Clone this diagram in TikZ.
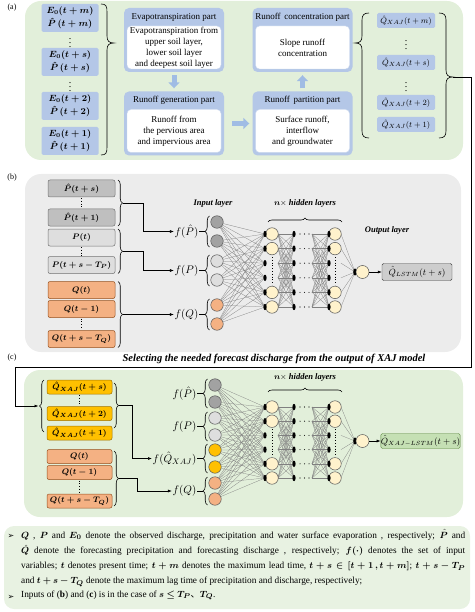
\documentclass[tikz,border=0pt]{standalone}
\usepackage{amsmath}
\usepackage{bm}
\usepackage{fontspec}
\setmainfont{Liberation Serif}
\newfontfamily\dejavu{DejaVu Sans}
\newfontfamily\cjkfont{Noto Sans CJK SC}
\usetikzlibrary{arrows.meta,decorations.pathreplacing}

\definecolor{panelgreen}{RGB}{226,239,218}
\definecolor{notegreen}{RGB}{232,242,226}
\definecolor{panelgray}{RGB}{236,236,236}
\definecolor{boxblue}{RGB}{180,199,231}
\definecolor{arrowblue}{RGB}{160,188,228}
\definecolor{pdark}{RGB}{191,191,191}
\definecolor{plight}{RGB}{222,222,222}
\definecolor{qorange}{RGB}{244,177,131}
\definecolor{qline}{RGB}{150,80,30}
\definecolor{qgold}{RGB}{255,192,0}
\definecolor{goldline}{RGB}{160,115,0}
\definecolor{cream}{RGB}{255,242,204}
\definecolor{lstmgray}{RGB}{205,205,205}
\definecolor{hybgreen}{RGB}{197,224,180}
\definecolor{hybline}{RGB}{84,130,53}

\tikzset{
  plabel/.style={font=\fontsize{8}{9}\selectfont, inner sep=0pt},
  inblue/.style={fill=boxblue, rounded corners=1.5pt, minimum width=57pt, minimum height=28pt,
    inner sep=0pt, align=center, font=\fontsize{8.8}{12.5}\selectfont\boldmath},
  xajbox/.style={fill=boxblue, rounded corners=1.5pt, minimum width=58pt, minimum height=15pt,
    inner sep=0pt, font=\fontsize{8.5}{10}\selectfont},
  partouter/.style={fill=boxblue, rounded corners=5pt, minimum width=100pt, minimum height=64pt},
  parthead/.style={font=\fontsize{9}{11}\selectfont, inner sep=0pt},
  partinner/.style={fill=white, draw=boxblue!70, rounded corners=4pt, minimum width=94pt,
    minimum height=43pt, align=center, font=\fontsize{9}{11}\selectfont, inner sep=0pt},
  bigarrow/.style={line width=5pt, draw=arrowblue, -{Triangle[width=11pt,length=6pt]},
    shorten <=3pt, shorten >=3pt},
  inbox/.style={draw=black!55, rounded corners=2pt, line width=0.5pt, minimum width=67pt,
    minimum height=17pt, inner sep=0pt, font=\fontsize{8.3}{9}\selectfont\boldmath},
  neuron/.style={circle, draw=black!65, line width=0.5pt, minimum size=12.5pt, inner sep=0pt},
  hidden/.style={neuron, fill=cream},
  wire/.style={draw=black!50, line width=0.25pt},
  conn/.style={line width=0.6pt, -{Latex[length=4pt,width=3pt]}},
  fnode/.style={font=\fontsize{11}{13}\selectfont, inner sep=0.5pt, anchor=east},
  mybrace/.style={decorate, decoration={brace, amplitude=#1}, line width=0.6pt},
  mybrace/.default=4.5pt,
  layername/.style={font=\fontsize{8.5}{10}\selectfont\bfseries\itshape, inner sep=0pt},
  dotsv/.style={dotted, line width=0.8pt},
  notetext/.style={anchor=north west, text width=444pt, align=justify, inner sep=0pt,
    font=\fontsize{9.3}{15.2}\selectfont},
}

\begin{document}
\begin{tikzpicture}[x=1pt,y=-1pt]
\useasboundingbox (0,0) rectangle (474,612);

%% (a) XAJ model
\fill[panelgreen, rounded corners=16pt] (25,1) rectangle (463,160);
\node[plabel] (la) at (12,8) {(a)};

\node[inblue] (ea1) at (70,18) {$E_0(t+m)$\\$\hat P\,(t+m)$};
\node (va1) at (70,40) {$\vdots$};
\node[inblue] (ea2) at (70,62) {$E_0(t+s)$\\$\hat P\,(t+s)$};
\node (va2) at (70,84) {$\vdots$};
\node[inblue] (ea3) at (70,106) {$E_0(t+2)$\\$\hat P\,(t+2)$};
\node[inblue] (ea4) at (70,141) {$E_0(t+1)$\\$\hat P\,(t+1)$};

\draw[line width=0.6pt] (101,4) .. controls (106,4) and (107,6) .. (107,12) -- (107,36)
  .. controls (107,41) and (109,43) .. (114,43) .. controls (109,43) and (107,45) .. (107,50)
  -- (107,147) .. controls (107,153) and (106,155) .. (101,155);

\node[partouter] (evap) at (174,40) {};
\node[parthead] (evaph) at (174,17) {Evapotranspiration part};
\node[partinner] (evapi) at (174,47.5) {Evapotranspiration from\\upper soil layer,\\lower soil layer\\and deepest soil layer};

\node[partouter] (gen) at (174,123.5) {};
\node[parthead] (genh) at (174,100.5) {Runoff generation part};
\node[partinner] (geni) at (174,131) {Runoff from\\the pervious area\\and impervious area};

\node[partouter] (part) at (302.5,123.5) {};
\node[parthead] (parth) at (302.5,100.5) {Runoff\, partition part};
\node[partinner] (parti) at (302.5,131) {Surface runoff,\\interflow\\and groundwater};

\node[partouter] (conc) at (302.5,40) {};
\node[parthead] (conch) at (302.5,17) {Runoff\, concentration part};
\node[partinner] (conci) at (302.5,47.5) {Slope runoff\\concentration};

\draw[bigarrow] (evap) -- (gen);
\draw[bigarrow, shorten <=8pt] (gen) -- (part);
\draw[bigarrow] (part) -- (conc);

\draw[line width=0.6pt] (369,13) .. controls (364,13) and (362,15) .. (362,20) -- (362,36)
  .. controls (362,41) and (360,43) .. (355,43) .. controls (360,43) and (362,45) .. (362,50)
  -- (362,131) .. controls (362,136) and (364,138) .. (369,138);

\node[xajbox] (xa1) at (406,20.5) {$\hat Q_{XAJ}(t+m)$};
\node (vx1) at (406,42) {$\vdots$};
\node[xajbox] (xa2) at (406,62.5) {$\hat Q_{XAJ}(t+s)$};
\node (vx2) at (406,84) {$\vdots$};
\node[xajbox] (xa3) at (406,102.5) {$\hat Q_{XAJ}(t+2)$};
\node[xajbox] (xa4) at (406,124.5) {$\hat Q_{XAJ}(t+1)$};

\draw[line width=0.6pt] (439,13) .. controls (444,13) and (446,15) .. (446,20) -- (446,70)
  .. controls (446,75) and (448,77) .. (453,77) .. controls (448,77) and (446,79) .. (446,84)
  -- (446,131) .. controls (446,136) and (444,138) .. (439,138);
\coordinate (tqa) at (453,77);

%% (b) LSTM
\fill[panelgray, rounded corners=16pt] (25,174) rectangle (461,352);
\node[plabel] (lb) at (12,178) {(b)};

\node[inbox, fill=pdark] (ph1) at (81.5,188.5) {$\hat P(t+s)$};
\draw[dotsv] (81.5,198) -- (81.5,208);
\node[inbox, fill=pdark] (ph2) at (81.5,217.5) {$\hat P(t+1)$};
\node[inbox, fill=plight] (pb1) at (81.5,237.5) {$P(t)$};
\draw[dotsv] (81.5,247) -- (81.5,256);
\node[inbox, fill=plight] (pb2) at (81.5,265) {$P(t+s-T_P)$};
\node[inbox, fill=qorange, draw=qline] (qb1) at (81.5,290) {$Q(t)$};
\node[inbox, fill=qorange, draw=qline] (qb2) at (81.5,309) {$Q(t-1)$};
\draw[dotsv] (81.5,318.5) -- (81.5,329);
\node[inbox, fill=qorange, draw=qline] (qb3) at (81.5,339) {$Q(t+s-T_Q)$};

\draw[mybrace] (118,180) -- (118,226);
\draw[mybrace] (118,229) -- (118,273.5);
\draw[mybrace] (118,281.5) -- (118,347.5);
\coordinate (tbph) at (122.5,203);
\coordinate (tbp) at (122.5,251.2);
\coordinate (tbq) at (122.5,314.5);

\node[fnode] (fbph) at (199,231.5) {$f(\hat P)$};
\node[fnode] (fbp) at (199,270.5) {$f(P)$};
\node[fnode] (fbq) at (199,314.5) {$f(Q)$};
\draw[conn] (tbph) -- (143,203) |- (fbph);
\draw[conn] (tbp) -- (143,251.2) |- (fbp);
\draw[conn] (tbq) -- (fbq);

\draw[mybrace] (209.5,247) -- (209.5,216);
\draw[mybrace] (209.5,286) -- (209.5,255);
\draw[mybrace] (209.5,330) -- (209.5,299);
\draw[line width=0.6pt] (fbph) -- (205,231.5);
\draw[line width=0.6pt] (fbp) -- (205,270.5);
\draw[line width=0.6pt] (fbq) -- (205,314.5);

\foreach \y [count=\k] in {234,248.6,263.2,277.8,292.4,307} {
  \coordinate (ba\k) at (265,\y);
  \coordinate (bb\k) at (278,\y);
  \coordinate (bc\k) at (294,\y);
  \coordinate (bd\k) at (312,\y);
  \coordinate (be\k) at (329,\y);
  \coordinate (bf\k) at (341,\y);
}
\coordinate (bom) at (355,272);

\foreach \y/\c [count=\i] in {222/pdark!85!black,241/pdark!85!black,261/plight,280/plight,305/qorange,324/qorange}
  \node[neuron, fill=\c] (bi\i) at (217,\y) {};

\foreach \i in {1,...,6} \foreach \k in {1,...,6} {
  \draw[wire] (bi\i) -- (ba\k);
  \draw[wire] (bb\i) -- (bc\k);
  \draw[wire] (bd\i) -- (be\k);
}
\foreach \k in {1,...,6} \draw[wire] (bf\k) -- (bom);

\foreach \k/\y in {1/234,2/248.6,5/292.4,6/307} {
  \node[hidden] (bh\k) at (272,\y) {};
  \node[hidden] (bl\k) at (335,\y) {};
}
\draw[dotsv] (272,257) -- (272,285);
\draw[dotsv] (335,257) -- (335,285);
\foreach \y in {234,248.6,263.2,277.8,292.4,307} \foreach \dx in {300,304.5,309} \fill (\dx,\y) circle (0.55pt);
\foreach \k in {1,...,6} {
  \fill (ba\k) ellipse [x radius=1.6pt, y radius=3.2pt];
  \fill (bc\k) ellipse [x radius=1.6pt, y radius=3.2pt];
  \fill (be\k) ellipse [x radius=1.6pt, y radius=3.2pt];
}
\fill (bom) ellipse [x radius=1.8pt, y radius=3.6pt];
\node[hidden, minimum size=13pt] (bout) at (362.5,272) {};

\node[draw=black!75, fill=lstmgray, rounded corners=1.5pt, minimum width=70pt, minimum height=17pt,
  inner sep=0pt, font=\fontsize{9}{10}\selectfont] (blstm) at (417,272) {$\hat Q_{LSTM}(t+s)$};
\draw[conn] (bout) -- (blstm);

\node[layername] (blin) at (213,203) {Input layer};
\node[layername] (blhid) at (305,203) {$\bm n\times$ hidden layers};
\draw[mybrace=4pt] (268,222) -- (342,222);
\node[layername] (blout) at (387,230) {Output layer};

\node[font=\fontsize{10.5}{12}\selectfont\bfseries\itshape, inner sep=0pt] (sel) at (274,358.5)
  {Selecting the needed forecast discharge from the output of XAJ model};
\node[plabel] (lc) at (12,358) {(c)};

%% (c) XAJ-LSTM
\fill[panelgreen, rounded corners=16pt] (24,370) rectangle (463,517);

\node[inbox, fill=qgold, draw=goldline, minimum width=65pt, minimum height=14pt] (xc1) at (79.5,387) {$\hat Q_{XAJ}(t+s)$};
\draw[dotsv] (79.5,395) -- (79.5,405.5);
\node[inbox, fill=qgold, draw=goldline, minimum width=65pt, minimum height=14pt] (xc2) at (79.5,413.5) {$\hat Q_{XAJ}(t+2)$};
\node[inbox, fill=qgold, draw=goldline, minimum width=65pt, minimum height=14pt] (xc3) at (79.5,433) {$\hat Q_{XAJ}(t+1)$};
\node[inbox, fill=qorange, draw=qline, minimum width=65pt, minimum height=14pt] (qc1) at (79.5,456.5) {$Q(t)$};
\node[inbox, fill=qorange, draw=qline, minimum width=65pt, minimum height=14pt] (qc2) at (79.5,472.5) {$Q(t-1)$};
\draw[dotsv] (79.5,480.5) -- (79.5,493);
\node[inbox, fill=qorange, draw=qline, minimum width=65pt, minimum height=14pt] (qc3) at (79.5,501) {$Q(t+s-T_Q)$};

\draw[mybrace] (44,432) -- (44,380);
\coordinate (tcx) at (38.5,406);
\draw[conn] (tqa) -- (471,77) |- (15,367) |- (tcx);

\draw[mybrace] (114,383) -- (114,428);
\draw[mybrace] (114,451) -- (114,506);
\coordinate (tcq1) at (118.5,405.5);
\coordinate (tcq2) at (118.5,478.5);

\node[fnode] (fcph) at (197,393.5) {$f(\hat P)$};
\node[fnode] (fcp) at (197,426.5) {$f(P)$};
\node[fnode] (fcx) at (197,458.5) {$f(\hat Q_{XAJ})$};
\node[fnode] (fcq) at (197,491) {$f(Q)$};
\draw[conn] (tcq1) -- (132,405.5) |- (fcx);
\draw[conn] (tcq2) -- (137,478.5) |- (fcq);

\draw[mybrace] (207.5,408) -- (207.5,379);
\draw[mybrace] (207.5,441) -- (207.5,412);
\draw[mybrace] (207.5,473) -- (207.5,444);
\draw[mybrace] (207.5,505) -- (207.5,477);
\draw[line width=0.6pt] (fcph) -- (203,393.5);
\draw[line width=0.6pt] (fcp) -- (203,426.5);
\draw[line width=0.6pt] (fcx) -- (203,458.5);
\draw[line width=0.6pt] (fcq) -- (203,491);

\foreach \y [count=\k] in {407,421.2,435.4,449.6,463.8,478} {
  \coordinate (ca\k) at (265,\y);
  \coordinate (cb\k) at (278,\y);
  \coordinate (cc\k) at (294,\y);
  \coordinate (cd\k) at (312,\y);
  \coordinate (ce\k) at (329,\y);
  \coordinate (cf\k) at (341,\y);
}
\coordinate (com) at (355,441);

\foreach \y/\c [count=\i] in {385/pdark!85!black,402/pdark!85!black,418/plight,435/plight,450/qgold,467/qgold,483/qorange,499/qorange}
  \node[neuron, fill=\c] (ci\i) at (215,\y) {};

\foreach \i in {1,...,8} \foreach \k in {1,...,6} \draw[wire] (ci\i) -- (ca\k);
\foreach \i in {1,...,6} \foreach \k in {1,...,6} {
  \draw[wire] (cb\i) -- (cc\k);
  \draw[wire] (cd\i) -- (ce\k);
}
\foreach \k in {1,...,6} \draw[wire] (cf\k) -- (com);

\foreach \k/\y in {1/407,2/421.2,5/463.8,6/478} {
  \node[hidden] (ch\k) at (272,\y) {};
  \node[hidden] (cl\k) at (335,\y) {};
}
\draw[dotsv] (272,429) -- (272,456);
\draw[dotsv] (335,429) -- (335,456);
\foreach \y in {407,421.2,435.4,449.6,463.8,478} \foreach \dx in {300,304.5,309} \fill (\dx,\y) circle (0.55pt);
\foreach \k in {1,...,6} {
  \fill (ca\k) ellipse [x radius=1.6pt, y radius=3.2pt];
  \fill (cc\k) ellipse [x radius=1.6pt, y radius=3.2pt];
  \fill (ce\k) ellipse [x radius=1.6pt, y radius=3.2pt];
}
\fill (com) ellipse [x radius=1.8pt, y radius=3.6pt];
\node[hidden, minimum size=13pt] (cout) at (362.5,441) {};

\node[draw=hybline, fill=hybgreen, rounded corners=1.5pt, minimum width=75pt, minimum height=15pt,
  inner sep=0pt, font=\fontsize{9}{10}\selectfont] (chyb) at (420.5,441) {$\hat Q_{XAJ-LSTM}(t+s)$};
\draw[conn] (cout) -- (chyb);

\node[layername] (clhid) at (305,377) {$\bm n\times$ hidden layers};
\draw[mybrace=4pt] (268,392) -- (342,392);

%% notes
\fill[notegreen, rounded corners=10pt] (4,526) rectangle (470,609);
\node[font=\dejavu\fontsize{8}{9}\selectfont, inner sep=0pt] (bul1) at (11,536) {➢};
\node[notetext] (note1) at (21,529.5) {$\bm Q$ , $\bm P$ and $\bm{E_0}$ denote the observed discharge, precipitation and water surface evaporation , respectively; $\bm{\hat P}$ and\linebreak
$\bm{\hat Q}$ denote the forecasting precipitation and forecasting discharge , respectively; $\bm{f(\cdot)}$ denotes the set of input\linebreak
variables; $\bm t$ denotes present time; $\bm{t+m}$ denotes the maximum lead time, $\bm{t+s\in[t+1\,,t+m]}$; $\bm{t+s-T_P}$\linebreak
and $\bm{t+s-T_Q}$ denote the maximum lag time of precipitation and discharge, respectively;};
\node[font=\dejavu\fontsize{8}{9}\selectfont, inner sep=0pt] (bul2) at (11,597) {➢};
\node[notetext] (note2) at (21,590.5) {Inputs of (\textbf{b}) and (\textbf{c}) is in the case of $\bm{s\le T_P}${\cjkfont 、}$\bm{T_Q}$.};
\end{tikzpicture}
\end{document}
